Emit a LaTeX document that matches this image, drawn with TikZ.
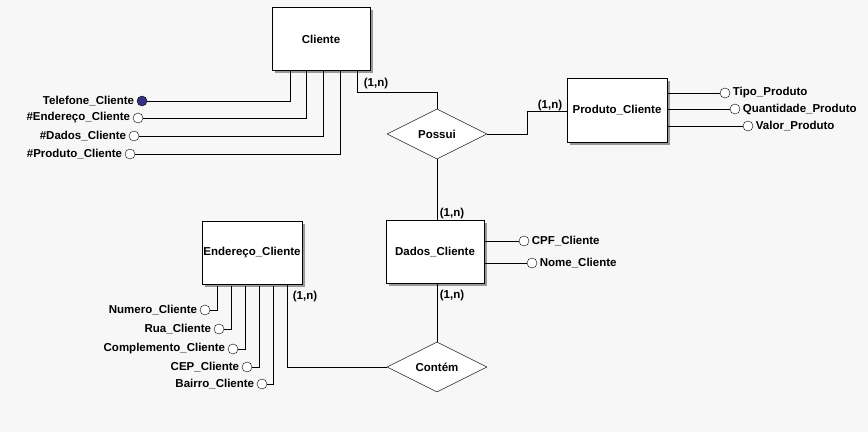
\documentclass[tikz,border=0pt]{standalone}
\usepackage{fontspec}
\setmainfont{Liberation Sans}
\usetikzlibrary{shapes.geometric,shadows}
\begin{document}
\begin{tikzpicture}[x=1pt,y=-1pt,font=\bfseries\fontsize{11.5}{13}\selectfont,
  ent/.style={draw,fill=white,minimum width=98pt,minimum height=63pt,inner sep=0pt,drop shadow={shadow xshift=2.5pt,shadow yshift=-2.5pt,fill=gray!80,opacity=1}},
  rel/.style={draw,diamond,aspect=2,fill=white,minimum width=100pt,minimum height=50pt,inner sep=0pt},
  att/.style={circle,draw,fill=white,minimum size=10pt,inner sep=0pt},
  katt/.style={att,fill=blue!40!black!80},
  lab/.style={inner sep=2.5pt},
  card/.style={inner sep=0pt}]
\fill[gray!6] (0,0) rectangle (868,432);
\useasboundingbox (0,0) rectangle (868,432);
\node[ent] (cli) at (321,39) {Cliente};
\node[rel] (pos) at (437,134) {Possui};
\node[ent,minimum width=100pt,minimum height=64pt] (pro) at (617,110) {Produto\_Cliente};
\node[ent] (dad) at (435,252) {Dados\_Cliente};
\node[ent,minimum width=100pt] (end) at (252,253) {Endereço\_Cliente};
\node[rel] (con) at (437,367) {Contém};
% Cliente attributes
\node[katt] (a1) at (142,101) {};
\node[lab,anchor=east] at (a1.west) {Telefone\_Cliente};
\node[att] (a2) at (138,118) {};
\node[lab,anchor=east] at (a2.west) {\#Endereço\_Cliente};
\node[att] (a3) at (134,136) {};
\node[lab,anchor=east] at (a3.west) {\#Dados\_Cliente};
\node[att] (a4) at (130,154) {};
\node[lab,anchor=east] at (a4.west) {\#Produto\_Cliente};
\draw (a1.east) -- (290,101) -- (290,70.5);
\draw (a2.east) -- (306,118) -- (306,70.5);
\draw (a3.east) -- (323,136) -- (323,70.5);
\draw (a4.east) -- (340,154) -- (340,70.5);
% relationships
\draw (357,70.5) -- (357,92) -- (437,92) -- (pos.north);
\node[card] at (376,84) {(1,n)};
\draw (pos.east) -- (527,134) -- (527,111) -- (pro.west |- 0,111);
\node[card] at (550,106) {(1,n)};
\draw (pos.south) -- (dad.north -| pos.south);
\node[card] at (452,214) {(1,n)};
\draw (dad.south -| con.north) -- (con.north);
\node[card] at (452,296) {(1,n)};
\draw (287,285) -- (287,367) -- (con.west);
\node[card] at (305,297) {(1,n)};
% Produto attributes
\node[att] (p1) at (725,93) {};
\node[lab,anchor=west] at (p1.east) {Tipo\_Produto};
\node[att] (p2) at (735,109) {};
\node[lab,anchor=west] at (p2.east) {Quantidade\_Produto};
\node[att] (p3) at (748,126) {};
\node[lab,anchor=west] at (p3.east) {Valor\_Produto};
\draw (pro.east |- p1) -- (p1.west);
\draw (pro.east |- p2) -- (p2.west);
\draw (pro.east |- p3) -- (p3.west);
% Dados attributes
\node[att] (d1) at (524,241) {};
\node[lab,anchor=west] at (d1.east) {CPF\_Cliente};
\node[att] (d2) at (532,263) {};
\node[lab,anchor=west] at (d2.east) {Nome\_Cliente};
\draw (dad.east |- d1) -- (d1.west);
\draw (dad.east |- d2) -- (d2.west);
% Endereco attributes
\foreach \n/\cx/\lx/\y/\t in {1/205/217/310/Numero\_Cliente,2/219/231/329/Rua\_Cliente,3/233/245/349/Complemento\_Cliente,4/247/259/367/CEP\_Cliente,5/262/273/384/Bairro\_Cliente}{
  \node[att] (e\n) at (\cx,\y) {};
  \node[lab,anchor=east] at (e\n.west) {\t};
  \draw (e\n.east) -- (\lx,\y) -- (\lx,286);
}
\end{tikzpicture}
\end{document}
